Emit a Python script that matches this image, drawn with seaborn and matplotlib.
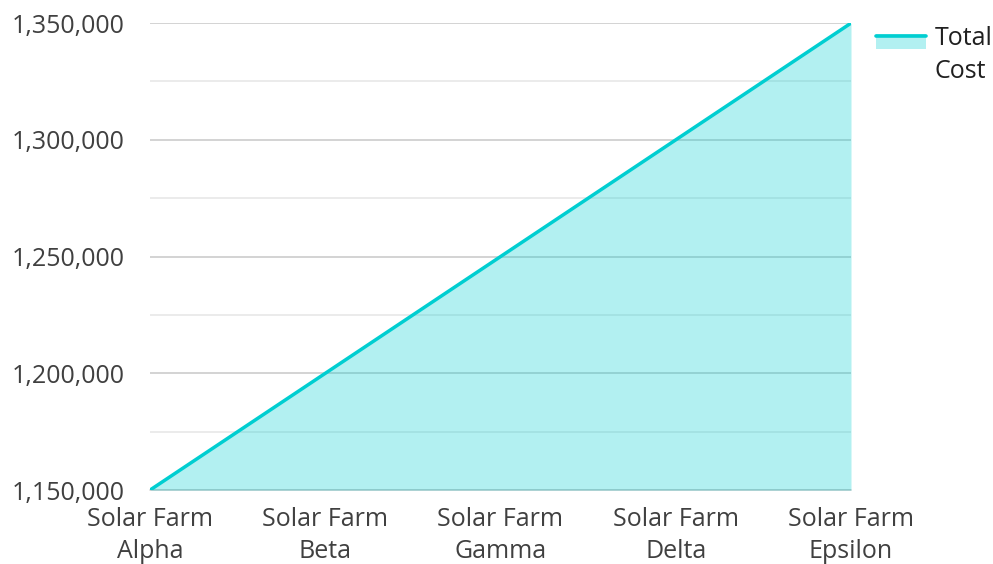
import pandas as pd
import seaborn as sns
import matplotlib.pyplot as plt
from matplotlib.lines import Line2D
from matplotlib.patches import Rectangle
from matplotlib.ticker import MultipleLocator, FuncFormatter

# Dati del grafico
progetti = ['Solar Farm\nAlpha', 'Solar Farm\nBeta', 'Solar Farm\nGamma',
            'Solar Farm\nDelta', 'Solar Farm\nEpsilon']
costo_totale = [1150000, 1200000, 1250000, 1300000, 1350000]

df = pd.DataFrame({'progetto': progetti, 'costo': costo_totale})
df['pos'] = range(len(df))

sns.set_style('white')
plt.rcParams['font.family'] = ['Open Sans', 'DejaVu Sans']

colore = '#00CED1'


# Maniglia della legenda: area con la linea sul bordo superiore
class HandlerArea:
    def legend_artist(self, legend, orig_handle, fontsize, handlebox):
        x0, y0 = handlebox.xdescent, handlebox.ydescent
        w, h = handlebox.width, handlebox.height
        top = y0 + h + 9
        area = Rectangle((x0, top - 10.5), w, 10.5, facecolor=colore, alpha=0.3,
                         edgecolor='none', transform=handlebox.get_transform())
        linea = Line2D([x0, x0 + w], [top - 1.2, top - 1.2], color=colore,
                       linewidth=2.6, transform=handlebox.get_transform())
        handlebox.add_artist(area)
        handlebox.add_artist(linea)
        return area


fig = plt.figure(figsize=(9.93, 5.64), dpi=100)
ax = fig.add_axes([0.151, 0.131, 0.706, 0.828])

# Griglia sotto l'area
ax.set_axisbelow(True)
ax.yaxis.set_major_locator(MultipleLocator(50000))
ax.yaxis.set_minor_locator(MultipleLocator(25000))
ax.grid(axis='y', which='major', color='#c8c8c8', linewidth=1.1)
ax.grid(axis='y', which='minor', color='#e6e6e6', linewidth=1.1)

ax.fill_between(df['pos'], df['costo'], 1150000, color=colore, alpha=0.3, linewidth=0, zorder=2)
sns.lineplot(data=df, x='pos', y='costo', color=colore, linewidth=2.5, ax=ax, zorder=3)
ax.axhline(1150000, color='#c8c8c8', linewidth=1.1, zorder=1.5, clip_on=False)

ax.set_xlim(0, 4)
ax.set_ylim(1150000, 1350000)
ax.set_xticks(df['pos'])
ax.set_xticklabels(progetti, linespacing=1.4)
ax.yaxis.set_major_formatter(FuncFormatter(lambda v, p: f'{v:,.0f}'))
ax.tick_params(axis='both', which='both', length=0, labelsize=18, labelcolor='#404040')
ax.tick_params(axis='y', pad=18)
ax.tick_params(axis='x', pad=12)
ax.set_xlabel('')
ax.set_ylabel('')
sns.despine(ax=ax, left=True, bottom=True)

# Legenda
leg = ax.legend([object()], ['Total\nCost'], handler_map={object: HandlerArea()},
                loc='upper left', bbox_to_anchor=(1.036, 0.994),
                frameon=False, fontsize=18, labelcolor='#202020', handlelength=2.0,
                handletextpad=0.35, borderaxespad=0, borderpad=0)
for t in leg.get_texts():
    t.set_linespacing(1.4)

plt.savefig('out.png', dpi=100)
